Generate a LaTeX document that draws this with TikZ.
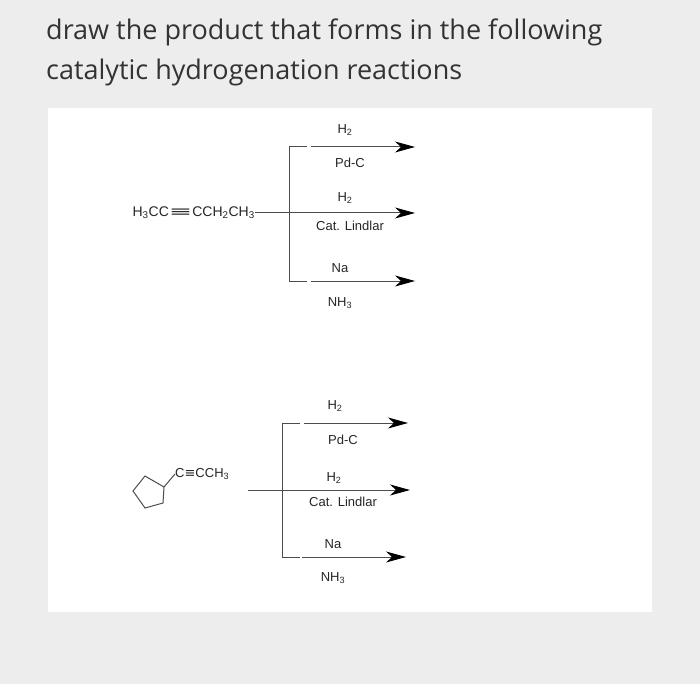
\documentclass[tikz,border=0pt]{standalone}
\usepackage{fontspec}
\setmainfont{Liberation Sans}
\newfontfamily\titlefont{Open Sans}
\newfontfamily\djvfont{DejaVu Sans}
\usetikzlibrary{arrows.meta}
\newcommand{\tribond}{\scalebox{2}[1]{\djvfont≡}}
\begin{document}
\begin{tikzpicture}[x=1pt,y=-1pt,
  lab/.style={font=\fontsize{13}{15}\selectfont,inner sep=0pt,text=black!85},
  rx/.style={line width=1pt,draw=black!70},
  ar/.style={rx,-{Stealth[length=20pt,width=11pt,inset=6pt,color=black]}}]
\fill[black!7] (0,0) rectangle (700,684);
\fill[white] (48,108) rectangle (652,612);
\useasboundingbox (0,0) rectangle (700,684);
\node[anchor=base west,inner sep=0pt,font=\titlefont\fontsize{27}{30}\selectfont,text=black!80] (t1) at (46,40) {draw the product that forms in the following};
\node[anchor=base west,inner sep=0pt,font=\titlefont\fontsize{27}{30}\selectfont,text=black!80] (t2) at (46,80) {catalytic hydrogenation reactions};
% top reaction
\node[lab,anchor=east,font=\fontsize{14}{16}\selectfont] (s1) at (255,213) {H\textsubscript{3}CC\tribond CCH\textsubscript{2}CH\textsubscript{3}};
\coordinate (v1t) at (289,147); \coordinate (v1b) at (289,281);
\coordinate (b1t) at (311,147); \coordinate (e1t) at (415,147);
\coordinate (b1b) at (311,281); \coordinate (e1b) at (415,281);
\draw[rx] (s1.east) -- (312,213);
\draw[ar] (312,213) -- (415,213);
\draw[rx] (307,147) -- (v1t) -- (v1b) -- (307,281);
\draw[ar] (b1t) -- (e1t);
\draw[ar] (b1b) -- (e1b);
\node[lab] (l1) at (345,130) {H\textsubscript{2}};
\node[lab] (l2) at (350,163) {Pd-C};
\node[lab] (l3) at (345,198) {H\textsubscript{2}};
\node[lab] (l4) at (350,226) {Cat. Lindlar};
\node[lab] (l5) at (340,268) {Na};
\node[lab] (l6) at (340,303) {NH\textsubscript{3}};
% bottom reaction
\draw[rx] (145,476) -- (164,487) -- (163,503) -- (145,508) -- (133,491) -- cycle;
\node[lab,anchor=west] (s2) at (175,474) {C{\djvfont≡}CCH\textsubscript{3}};
\draw[rx] (164,487) -- (s2.west);
\draw[rx] (248,490) -- (305,490);
\draw[ar] (305,490) -- (410,490);
\draw[rx] (300,423) -- (282,423) -- (282,557) -- (300,557);
\draw[ar] (304,423) -- (408,423);
\draw[ar] (302,557) -- (406,557);
\node[lab] (m1) at (335,406) {H\textsubscript{2}};
\node[lab] (m2) at (343,440) {Pd-C};
\node[lab] (m3) at (334,478) {H\textsubscript{2}};
\node[lab] (m4) at (343,502) {Cat. Lindlar};
\node[lab] (m5) at (333,544) {Na};
\node[lab] (m6) at (333,578) {NH\textsubscript{3}};
\end{tikzpicture}
\end{document}
